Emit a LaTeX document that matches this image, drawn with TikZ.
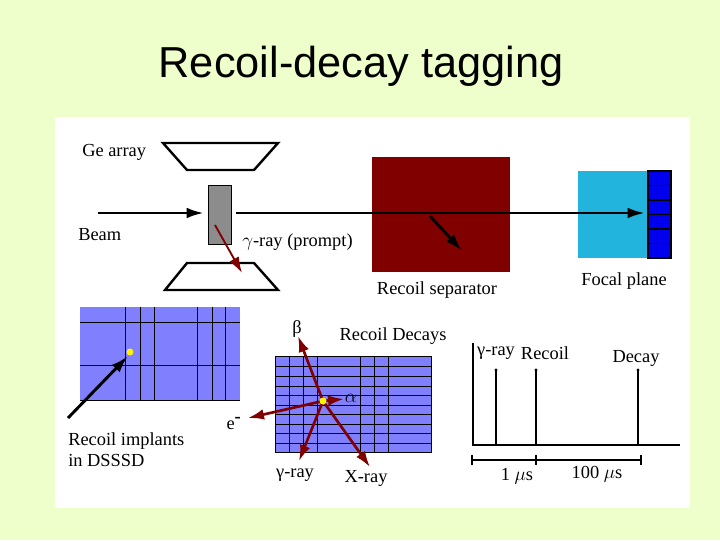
\documentclass[tikz,border=0pt]{standalone}
\usepackage{fontspec}
\setmainfont{Liberation Serif}
\newfontfamily\titlefont{Liberation Sans}
\usetikzlibrary{arrows.meta}
\definecolor{bg}{HTML}{EEFFCC}
\definecolor{sep}{HTML}{800000}
\definecolor{fpc}{HTML}{22B4DD}
\definecolor{fpb}{HTML}{0000EE}
\definecolor{det}{HTML}{8080FF}
\definecolor{dred}{HTML}{800000}
\tikzset{lbl/.style={font=\fontsize{13.8pt}{16pt}\selectfont,inner sep=0pt},
 blk/.style={line width=2.2pt,-{Latex[length=13pt,width=8pt]}},
 red/.style={dred,line width=2pt,-{Latex[length=12pt,width=8pt]}},
 grid/.style={line width=0.7pt}}
\begin{document}
\begin{tikzpicture}[x=0.75pt,y=-0.75pt]
\fill[bg] (0,0) rectangle (720,540);
\useasboundingbox (0,0) rectangle (720,540);
\fill[white] (55,117) rectangle (690,508);
\node[font=\titlefont\fontsize{32.5pt}{38pt}\selectfont] (title) at (361,66) {Recoil-decay tagging};
% Ge array
\draw[line width=1.8pt] (163,143) -- (278,143) -- (254,170) -- (187,170) -- cycle;
\draw[line width=1.8pt] (187,263) -- (254,263) -- (278,290) -- (165,290) -- cycle;
\node[lbl,anchor=west] (ge) at (82,152) {Ge array};
\fill[gray!90,draw=black,line width=0.5pt] (208,185) rectangle (231,244);
\coordinate (b0) at (98,213); \coordinate (b1) at (204,213);
\draw[blk] (b0) -- (b1);
\node[lbl,anchor=west] (beam) at (78,235) {Beam};
\node[lbl,anchor=west] (gp) at (242,242) {$\gamma$-ray (prompt)};
% separator
\fill[sep] (372,157) rectangle (510,272);
\node[lbl] (rs) at (437,290) {Recoil separator};
% focal plane
\fill[fpc] (578,171) rectangle (648,258);
\fill[fpb] (648,171) rectangle (671,258);
\foreach \y in {185.5,200,214.5,229,243.5} \draw[line width=0.8pt] (648,\y) -- (671,\y);
\draw[line width=0.8pt] (648,171) rectangle (671,258);
\node[lbl] (fp) at (624,281) {Focal plane};
\coordinate (c0) at (236,213); \coordinate (c1) at (645,213);
\draw[blk] (c0) -- (c1);
\coordinate (d0) at (430,216); \coordinate (d1) at (462,251);
\draw[blk] (d0) -- (d1);
\coordinate (g0) at (215,225); \coordinate (g1) at (242,273);
\draw[red,line width=1.4pt] (g0) -- (g1);
% DSSSD left
\fill[det] (80,307) rectangle (240,400);
\foreach \x in {125,140,154,197,212,225} \draw[grid] (\x,307) -- (\x,400);
\foreach \y in {322,365} \draw[grid] (80,\y) -- (240,\y);
\draw[grid] (80,400) -- (240,400);
\coordinate (i0) at (68,418); \coordinate (i1) at (128,356);
\draw[blk] (i0) -- (i1);
\fill[yellow] (130,352) circle (3.5);
\node[lbl,anchor=north west,align=left] (ri) at (68,432) {Recoil implants\\in DSSSD};
% right grid
\fill[det] (275,356) rectangle (431,452);
\foreach \x in {289,303,317,360,374,388} \draw[grid] (\x,356) -- (\x,452);
\foreach \y in {366,376,386,395,405,414,424,433,443} \draw[grid] (275,\y) -- (431,\y);
\draw[grid] (275,356) rectangle (431,452);
\coordinate (o) at (323,401);
\coordinate (beta) at (298,336); \coordinate (alp) at (344,399);
\coordinate (el) at (248,418); \coordinate (gr) at (299,461); \coordinate (xr) at (370,467);
\draw[red] (o) -- (beta);
\draw[red] (o) -- (alp);
\draw[red] (o) -- (el);
\draw[red] (o) -- (gr);
\draw[red] (o) -- (xr);
\fill[yellow] (o) circle (3.5);
\node[lbl] (lb) at (297,329) {β};
\node[lbl] (la) at (351,398) {$\alpha$};
\node[lbl] (le) at (234,424) {e$^{\textbf{-}}$};
\node[lbl] (lg) at (295,475) {γ-ray};
\node[lbl] (lx) at (366,478) {X-ray};
\node[lbl] (rd) at (393,336) {Recoil Decays};
% timeline
\draw[line width=0.8pt] (473,343) -- (473,445) -- (680,445);
\foreach \x in {496,536,638} {\draw[line width=0.8pt] (\x,445) -- (\x,370); \fill (\x,370) circle (1.6);}
\node[lbl] (t1) at (496,353) {γ-ray};
\node[lbl] (t2) at (545,353) {Recoil};
\node[lbl] (t3) at (636,358) {Decay};
\draw[line width=0.8pt] (472,460) -- (641,460);
\foreach \x in {472,536,641} \draw[line width=0.8pt] (\x,455) -- (\x,465);
\node[lbl] (s1) at (517,476) {1 $\mu$s};
\node[lbl] (s2) at (597,474) {100 $\mu$s};
\end{tikzpicture}
\end{document}
